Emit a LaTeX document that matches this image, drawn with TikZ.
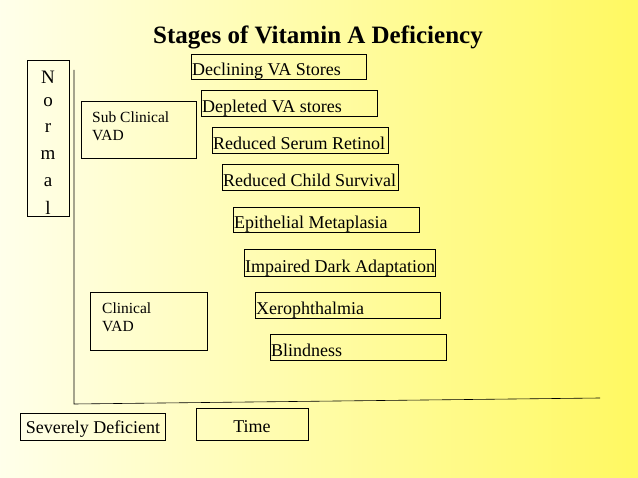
\documentclass[tikz,border=0pt]{standalone}
\usepackage{fontspec}
\setmainfont{Liberation Serif}
\begin{document}
\begin{tikzpicture}[x=1pt,y=-1pt,
  bx/.style={draw,line width=0.6pt},
  lbl/.style={anchor=base west,font=\fontsize{18}{20}\selectfont,inner sep=0pt},
  sm/.style={anchor=north west,font=\fontsize{15.5}{18}\selectfont,align=left,inner sep=0pt}]
\shade[left color=yellow!8!white,right color=yellow!60!white!95!orange] (0,0) rectangle (638,478);
\useasboundingbox (0,0) rectangle (638,478);
\node[font=\bfseries\fontsize{25}{28}\selectfont] (title) at (318,37) {Stages of Vitamin A Deficiency};
% Normal
\draw[bx] (27,60) rectangle (69,216);
\foreach \t/\y [count=\i] in {N/77,o/102,r/128,m/155,a/182,l/208}
  \node[font=\fontsize{19}{21}\selectfont,inner sep=0pt] (n\i) at (48,\y) {\t};
% subclinical / clinical
\draw[bx] (81,101) rectangle (196,158);
\node[sm] (sub) at (92,112) {Sub Clinical\\VAD};
\draw[bx] (90,292) rectangle (207,350);
\node[sm] (cl) at (102,303) {Clinical\\VAD};
% stage boxes
\foreach \xa/\ya/\xb/\yb/\t [count=\i] in {
 191/54/366/79/Declining VA Stores,
 201/90/377/116/Depleted VA stores,
 212/127/388/153/Reduced Serum Retinol,
 222/164/398/190/Reduced Child Survival,
 233/207/419/232/Epithelial Metaplasia,
 244/249/435/276/Impaired Dark Adaptation,
 255/292/440/318/Xerophthalmia,
 270/334/446/360/Blindness}
{ \draw[bx] (\xa,\ya) rectangle (\xb,\yb);
  \node[lbl] (s\i) at (\xa+1,\yb-3) {\t}; }
% axes
\coordinate (o) at (74,404);
\draw[line width=0.6pt] (74,70) -- (o) -- (600,398);
% bottom boxes
\draw[bx] (20,413) rectangle (165,440);
\node[font=\fontsize{18}{20}\selectfont] (sev) at (93,429) {Severely Deficient};
\draw[bx] (196,408) rectangle (308,440);
\node[font=\fontsize{18}{20}\selectfont] (time) at (252,427) {Time};
\end{tikzpicture}
\end{document}
